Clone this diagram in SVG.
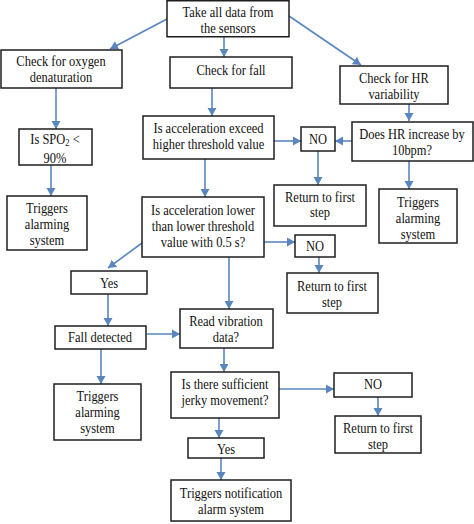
<svg xmlns="http://www.w3.org/2000/svg" width="474" height="524" viewBox="0 0 474 524">
<defs>
<style>
.box{fill:#fff;stroke:#1e1e1e;stroke-width:1.5}
.t{font-family:"Liberation Serif","Times New Roman",serif;font-size:14px;fill:#111;text-anchor:middle}
.c{fill:none;stroke:#5a86c0;stroke-width:1.6;marker-end:url(#ah)}
</style>
<marker id="ah" markerUnits="userSpaceOnUse" markerWidth="10" markerHeight="10" refX="8" refY="5" orient="auto">
<path d="M0,0.5 L8,5 L0,9.5 z" fill="#5a86c0"/>
</marker>
</defs>
<rect width="474" height="524" fill="#fff"/>
<g id="connectors">
<line class="c" x1="167" y1="19" x2="110" y2="49"/>
<line class="c" x1="224" y1="37" x2="224" y2="57"/>
<line class="c" x1="289" y1="16" x2="361" y2="65"/>
<line class="c" x1="56" y1="88" x2="56" y2="129"/>
<line class="c" x1="212" y1="88" x2="212" y2="116"/>
<line class="c" x1="409" y1="104" x2="409" y2="121"/>
<line class="c" x1="274" y1="141" x2="301" y2="141"/>
<line class="c" x1="352" y1="141" x2="335" y2="141"/>
<line class="c" x1="318" y1="151" x2="318" y2="185"/>
<line class="c" x1="51" y1="165" x2="51" y2="196"/>
<line class="c" x1="205" y1="159" x2="205" y2="197"/>
<line class="c" x1="409" y1="161" x2="409" y2="189"/>
<line class="c" x1="264" y1="242" x2="295" y2="242"/>
<line class="c" x1="319" y1="257" x2="319" y2="273"/>
<line class="c" x1="142" y1="243" x2="108" y2="268"/>
<line class="c" x1="229" y1="257" x2="229" y2="309"/>
<line class="c" x1="108" y1="294" x2="108" y2="326"/>
<line class="c" x1="147" y1="334" x2="180" y2="334"/>
<line class="c" x1="101" y1="349" x2="101" y2="384"/>
<line class="c" x1="224" y1="348" x2="224" y2="372"/>
<line class="c" x1="279" y1="389" x2="334" y2="389"/>
<line class="c" x1="378" y1="397" x2="378" y2="416"/>
<line class="c" x1="219" y1="418" x2="219" y2="438"/>
<line class="c" x1="221" y1="458" x2="221" y2="480"/>
</g>
<g id="n-take"><rect class="box" x="167" y="0.75" width="122" height="36"/><text class="t" transform="scale(0.89 1)" x="256.18" y="17.5">Take all data from</text><text class="t" transform="scale(0.89 1)" x="256.18" y="33.5">the sensors</text></g>
<g id="n-oxygen"><rect class="box" x="1" y="50" width="121" height="38"/><text class="t" transform="scale(0.89 1)" x="68.54" y="66.5">Check for oxygen</text><text class="t" transform="scale(0.89 1)" x="68.54" y="82.5">denaturation</text></g>
<g id="n-fall"><rect class="box" x="170" y="57" width="122" height="31"/><text class="t" transform="scale(0.89 1)" x="259.55" y="75">Check for fall</text></g>
<g id="n-hrvar"><rect class="box" x="340" y="66" width="108" height="38"/><text class="t" transform="scale(0.89 1)" x="442.7" y="83">Check for HR</text><text class="t" transform="scale(0.89 1)" x="442.7" y="99.5">variability</text></g>
<g id="n-spo2"><rect class="box" x="19" y="129" width="73" height="36"/><text class="t" transform="scale(0.89 1)" x="61.8" y="144">Is SPO<tspan font-size="9.5" dy="2">2</tspan><tspan dy="-2"> &lt;</tspan></text><text class="t" transform="scale(0.89 1)" x="61.8" y="163">90%</text></g>
<g id="n-accelhigh"><rect class="box" x="143" y="116" width="131" height="43"/><text class="t" transform="scale(0.89 1)" x="234.27" y="133">Is acceleration exceed</text><text class="t" transform="scale(0.89 1)" x="234.27" y="149">higher threshold value</text></g>
<g id="n-no1"><rect class="box" x="301" y="127" width="34" height="24"/><text class="t" transform="scale(0.89 1)" x="357.3" y="144">NO</text></g>
<g id="n-hrinc"><rect class="box" x="352" y="122" width="121" height="39"/><text class="t" transform="scale(0.89 1)" x="462.92" y="139">Does HR increase by</text><text class="t" transform="scale(0.89 1)" x="462.92" y="155">10bpm?</text></g>
<g id="n-trig1"><rect class="box" x="7" y="196" width="80" height="54"/><text class="t" transform="scale(0.89 1)" x="52.81" y="213">Triggers</text><text class="t" transform="scale(0.89 1)" x="52.81" y="229">alarming</text><text class="t" transform="scale(0.89 1)" x="52.81" y="245.5">system</text></g>
<g id="n-accellow"><rect class="box" x="142" y="197" width="122" height="60"/><text class="t" transform="scale(0.89 1)" x="228.09" y="215">Is acceleration lower</text><text class="t" transform="scale(0.89 1)" x="228.09" y="231">than lower threshold</text><text class="t" transform="scale(0.89 1)" x="228.09" y="247.5">value with 0.5 s?</text></g>
<g id="n-ret1"><rect class="box" x="274" y="185" width="92" height="41"/><text class="t" transform="scale(0.89 1)" x="359.55" y="202">Return to first</text><text class="t" transform="scale(0.89 1)" x="359.55" y="217">step</text></g>
<g id="n-trig2"><rect class="box" x="379" y="189" width="78" height="54"/><text class="t" transform="scale(0.89 1)" x="469.66" y="207">Triggers</text><text class="t" transform="scale(0.89 1)" x="469.66" y="223">alarming</text><text class="t" transform="scale(0.89 1)" x="469.66" y="239">system</text></g>
<g id="n-no2"><rect class="box" x="295" y="235" width="40" height="22"/><text class="t" transform="scale(0.89 1)" x="353.93" y="251.5">NO</text></g>
<g id="n-ret2"><rect class="box" x="287" y="273" width="91" height="40"/><text class="t" transform="scale(0.89 1)" x="373.03" y="291">Return to first</text><text class="t" transform="scale(0.89 1)" x="373.03" y="307.5">step</text></g>
<g id="n-yes1"><rect class="box" x="71" y="271" width="76" height="23"/><text class="t" transform="scale(0.89 1)" x="122.47" y="288">Yes</text></g>
<g id="n-falldet"><rect class="box" x="55" y="326" width="91" height="23"/><text class="t" transform="scale(0.89 1)" x="112.36" y="342.5">Fall detected</text></g>
<g id="n-read"><rect class="box" x="180" y="309" width="93" height="39"/><text class="t" transform="scale(0.89 1)" x="253.93" y="326.5">Read vibration</text><text class="t" transform="scale(0.89 1)" x="253.93" y="342">data?</text></g>
<g id="n-trig3"><rect class="box" x="54" y="384" width="87" height="56"/><text class="t" transform="scale(0.89 1)" x="109.55" y="401">Triggers</text><text class="t" transform="scale(0.89 1)" x="109.55" y="417">alarming</text><text class="t" transform="scale(0.89 1)" x="109.55" y="433.5">system</text></g>
<g id="n-jerky"><rect class="box" x="171" y="372" width="108" height="46"/><text class="t" transform="scale(0.89 1)" x="252.81" y="389">Is there sufficient</text><text class="t" transform="scale(0.89 1)" x="252.81" y="405.5">jerky movement?</text></g>
<g id="n-no3"><rect class="box" x="334" y="373" width="78" height="24"/><text class="t" transform="scale(0.89 1)" x="419.1" y="389">NO</text></g>
<g id="n-ret3"><rect class="box" x="335" y="416" width="86" height="37"/><text class="t" transform="scale(0.89 1)" x="424.72" y="433">Return to first</text><text class="t" transform="scale(0.89 1)" x="424.72" y="449.5">step</text></g>
<g id="n-yes2"><rect class="box" x="188" y="438" width="76" height="20"/><text class="t" transform="scale(0.89 1)" x="253.93" y="454.5">Yes</text></g>
<g id="n-notify"><rect class="box" x="171" y="480" width="120" height="41"/><text class="t" transform="scale(0.89 1)" x="259.55" y="498">Triggers notification</text><text class="t" transform="scale(0.89 1)" x="259.55" y="514">alarm system</text></g>
</svg>
